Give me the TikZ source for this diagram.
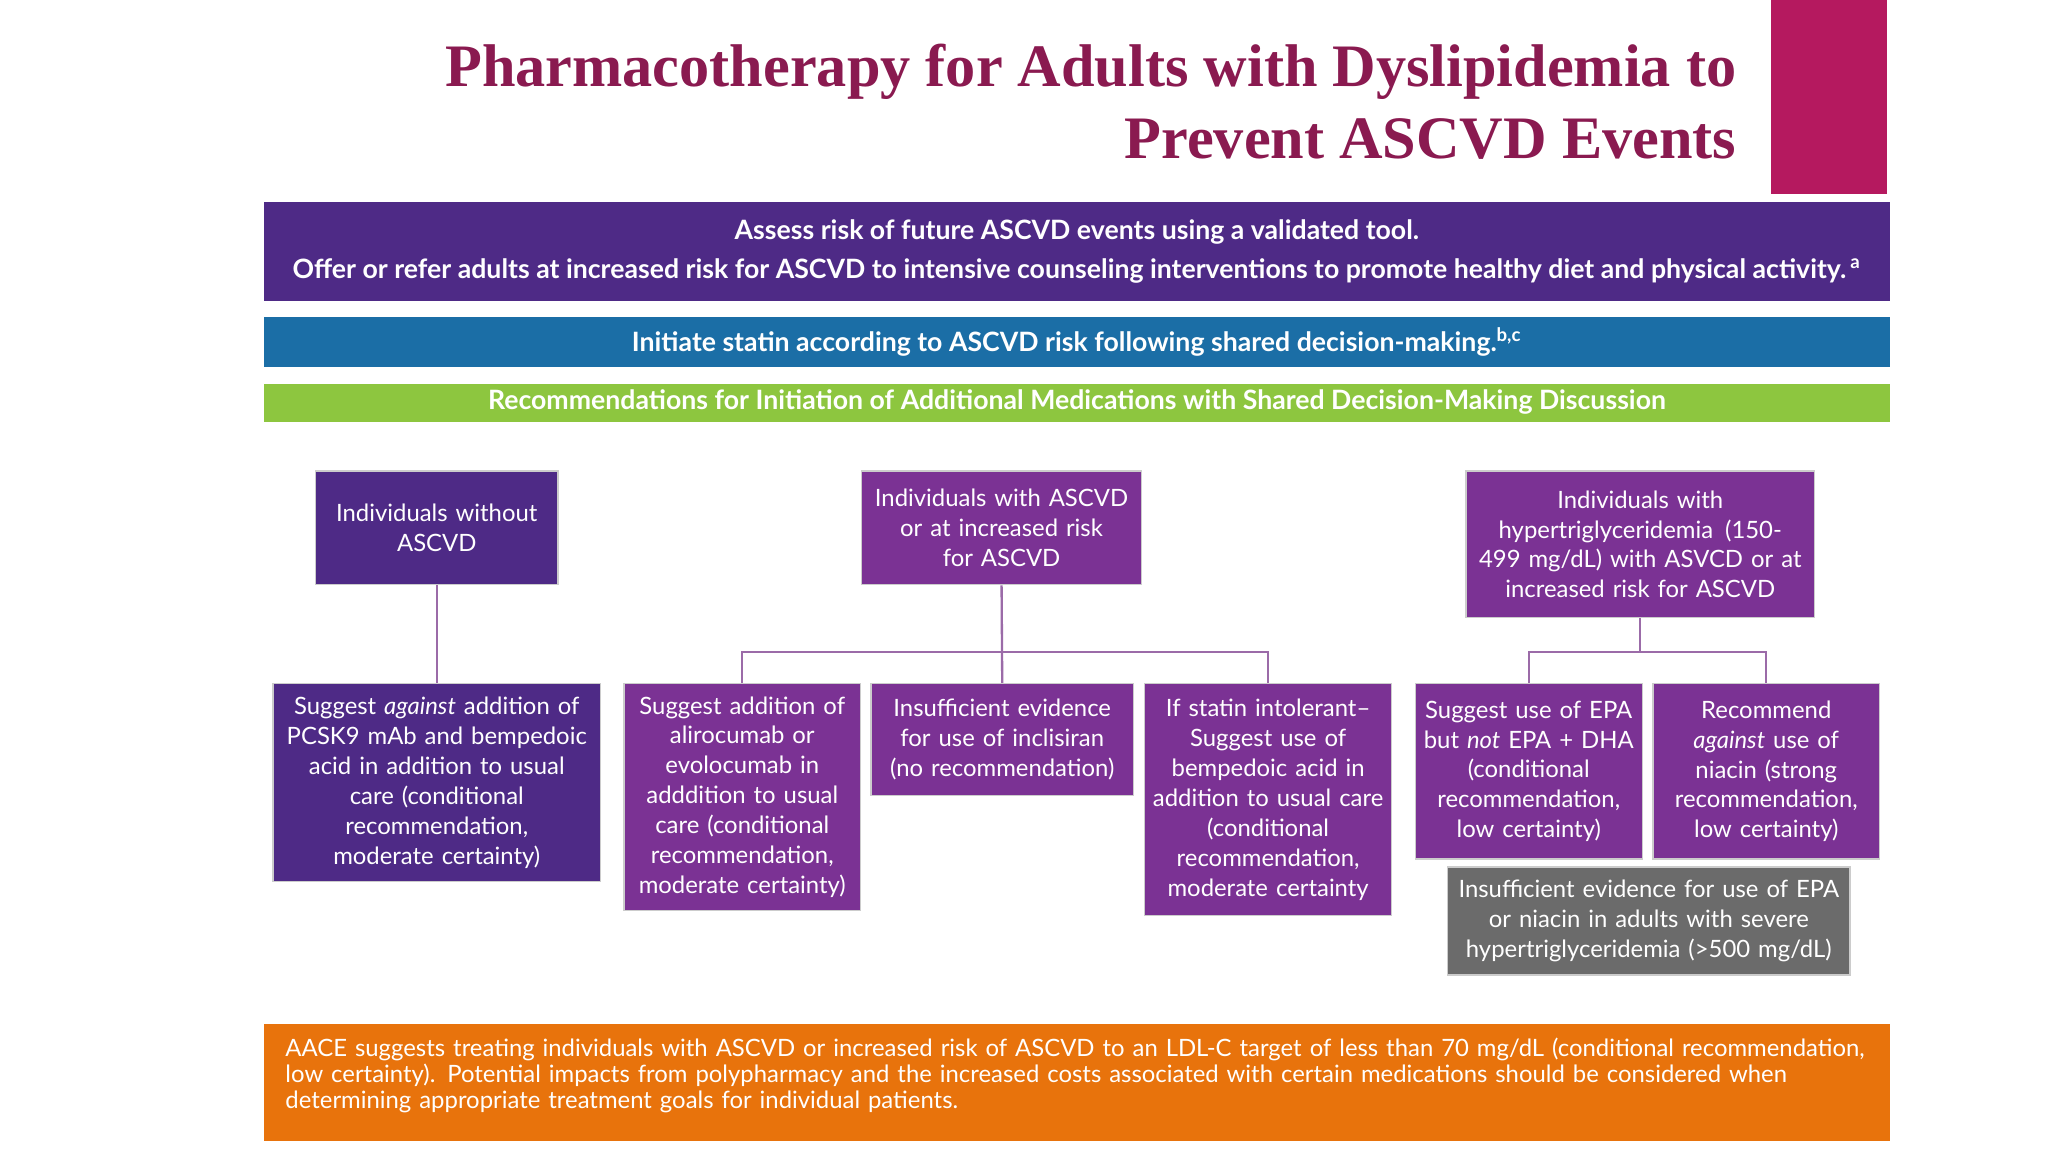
\documentclass[tikz,border=0pt]{standalone}
\usepackage{fontspec}
\setmainfont{Lato}
\newfontfamily\titlefont{Liberation Serif}
\definecolor{ttl}{HTML}{8A1A50}
\definecolor{mag}{HTML}{B5195F}
\definecolor{dpur}{HTML}{4E2A86}
\definecolor{pur}{HTML}{7B3294}
\definecolor{blu}{HTML}{1B6EA6}
\definecolor{grn}{HTML}{8DC63F}
\definecolor{gry}{HTML}{6B6B6B}
\definecolor{org}{HTML}{E8730C}
\definecolor{lnk}{HTML}{9B6BA8}
\tikzset{
 bx/.style={draw=gray!40, line width=0.6pt, text=white, align=center, inner sep=2pt, font=\fontsize{10.3}{12.9}\selectfont},
 bar/.style={text=white, font=\bfseries\fontsize{11.5}{17}\selectfont, align=center},
 lk/.style={draw=lnk, line width=1pt}
}
\begin{document}
\begin{tikzpicture}[x=0.02cm,y=-0.02cm]
\useasboundingbox (0,0) rectangle (1552,873);
\fill[white] (0,0) rectangle (1552,873);
\fill[mag] (1342,0) rectangle (1430,147);
\node[anchor=east, align=right, text=ttl, font=\titlefont\bfseries\fontsize{26}{31}\selectfont] (title) at (1322,77) {Pharmacotherapy for Adults with Dyslipidemia to\\Prevent ASCVD Events};
\fill[dpur] (200,153) rectangle (1432,228);
\node[bar] (t1) at (816,190.5) {Assess risk of future ASCVD events using a validated tool.\\Offer or refer adults at increased risk for ASCVD to intensive counseling interventions to promote healthy diet and physical activity.\,\textsuperscript{a}};
\fill[blu] (200,240) rectangle (1432,278);
\node[bar] (t2) at (816,259) {Initiate statin according to ASCVD risk following shared decision-making.\textsuperscript{b,c}};
\fill[grn] (200,291) rectangle (1432,320);
\node[bar] (t3) at (816,305) {Recommendations for Initiation of Additional Medications with Shared Decision-Making Discussion};

\node[bx, fill=dpur, minimum width=3.68cm, minimum height=1.72cm, text width=3.4cm] (A) at (331,400) {Individuals without\\ASCVD};
\node[bx, fill=pur, minimum width=4.24cm, minimum height=1.72cm, text width=4.0cm] (B) at (759,400) {Individuals with ASCVD\\or at increased risk\\for ASCVD};
\node[bx, fill=pur, minimum width=5.28cm, minimum height=2.22cm, text width=5.0cm] (C) at (1243,412.5) {Individuals with\\hypertriglyceridemia\, (150-\\499 mg/dL) with ASVCD or at\\increased risk for ASCVD};
\node[bx, fill=dpur, minimum width=4.96cm, minimum height=3.0cm, text width=4.8cm] (A1) at (331,593) {Suggest \textit{against} addition of\\PCSK9 mAb and bempedoic\\acid in addition to usual\\care (conditional\\recommendation,\\moderate certainty)};
\node[bx, fill=pur, minimum width=3.54cm, minimum height=3.44cm, text width=3.45cm] (B1) at (562.5,604) {Suggest addition of\\alirocumab or\\evolocumab in\\adddition to usual\\care (conditional\\recommendation,\\moderate certainty)};
\node[bx, fill=pur, minimum width=3.98cm, minimum height=1.7cm, text width=3.8cm] (B2) at (759.5,560.5) {Insufficient evidence\\for use of inclisiran\\(no recommendation)};
\node[bx, fill=pur, minimum width=3.72cm, minimum height=3.52cm, text width=3.6cm] (B3) at (961,606) {If statin intolerant--\\Suggest use of\\bempedoic acid in\\addition to usual care\\(conditional\\recommendation,\\moderate certainty};
\node[bx, fill=pur, minimum width=3.42cm, minimum height=2.66cm, text width=3.3cm] (C1) at (1158.5,584.5) {Suggest use of EPA\\but \textit{not} EPA + DHA\\(conditional\\recommendation,\\low certainty)};
\node[bx, fill=pur, minimum width=3.42cm, minimum height=2.66cm, text width=3.3cm] (C2) at (1338.5,584.5) {Recommend\\\textit{against} use of\\niacin (strong\\recommendation,\\low certainty)};
\node[bx, fill=gry, minimum width=6.1cm, minimum height=1.64cm, text width=5.9cm] (C3) at (1249.5,698) {Insufficient evidence for use of EPA\\or niacin in adults with severe\\hypertriglyceridemia (>500 mg/dL)};

\coordinate (jb) at (760,494);
\coordinate (jc) at (1243,494);
\draw[lk] (A.south) -- (A1.north);
\draw[lk] (B.south) -- (B2.north);
\draw[lk] (B1.north) |- (jb) -| (B3.north);
\draw[lk] (C.south) -- (jc);
\draw[lk] (C1.north) |- (jc) -| (C2.north);

\fill[org] (200,776) rectangle (1432,865);
\node[anchor=north west, text=white, align=left, text width=24.1cm, inner sep=0pt, font=\fontsize{10.3}{11.3}\selectfont] (t4) at (216,786) {AACE suggests treating individuals with ASCVD or increased risk of ASCVD to an LDL-C target of less than 70 mg/dL (conditional recommendation,\\low certainty). Potential impacts from polypharmacy and the increased costs associated with certain medications should be considered when\\determining appropriate treatment goals for individual patients.};
\end{tikzpicture}
\end{document}
